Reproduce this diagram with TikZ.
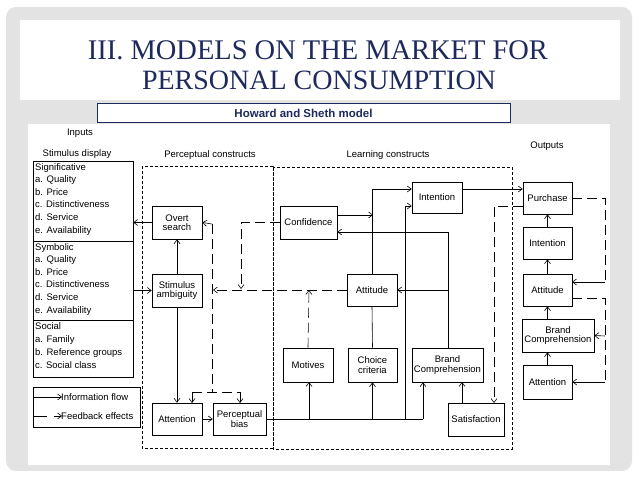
\documentclass[tikz,border=0pt]{standalone}
\usepackage{fontspec}
\setsansfont{Liberation Sans}
\newfontfamily\titlefont{Liberation Serif}
\usetikzlibrary{arrows.meta}
\definecolor{navy}{HTML}{1F2A5C}
\definecolor{bgg}{HTML}{E3E3E3}
\tikzset{
  bx/.style={draw,line width=0.6pt,inner sep=1pt,align=center,font=\sffamily\fontsize{9.5}{9.5}\selectfont},
  lbl/.style={font=\sffamily\fontsize{9.5}{10}\selectfont,inner sep=0pt},
  ln/.style={line width=0.6pt},
  ar/.style={ln,-{Straight Barb[length=4pt,width=6pt]}},
  fb/.style={ln,dash pattern=on 10pt off 5pt},
  fba/.style={fb,-{Straight Barb[length=4pt,width=6pt]}},
  zone/.style={line width=0.6pt,dash pattern=on 3pt off 2pt}
}
\begin{document}
\begin{tikzpicture}[x=1pt,y=-1pt]
\useasboundingbox (0,0) rectangle (638,478);
\fill[bgg,rounded corners=10pt] (6,7) rectangle (632,471);
\fill[white] (20,20) rectangle (620,100);
\fill[white] (28,124) rectangle (610,465);
\node[text=navy,inner sep=0pt] (t1) at (318,50) {\resizebox{460pt}{!}{\titlefont III. MODELS ON THE MARKET FOR}};
\node[text=navy,inner sep=0pt] (t2) at (319,80) {\resizebox{354pt}{!}{\titlefont PERSONAL CONSUMPTION}};
\node[draw=navy,line width=1pt,fill=white,minimum width=413pt,minimum height=19pt,inner sep=0pt,text=navy,font=\sffamily\bfseries\fontsize{11.5}{12}\selectfont] (sub) at (303.5,113.5) {Howard and Sheth model};

% headings
\node[lbl] (hin) at (80,133) {Inputs};
\node[lbl] (hsd) at (77,154) {Stimulus display};
\node[lbl] (hpc) at (210,155) {Perceptual constructs};
\node[lbl] (hlc) at (388,155) {Learning constructs};
\node[lbl] (hout) at (547,146) {Outputs};

% zones
\draw[zone] (142,166) rectangle (273,448);
\draw[zone] (273,167) rectangle (512,449);

% stimulus display
\node[draw,ln,minimum width=100pt,minimum height=80pt,inner sep=0pt] (sig) at (83,201) {};
\node[draw,ln,minimum width=100pt,minimum height=79pt,inner sep=0pt] (sym) at (83,280.5) {};
\node[draw,ln,minimum width=100pt,minimum height=57pt,inner sep=0pt] (soc) at (83,348.5) {};
\node[lbl,anchor=north west,align=left,font=\sffamily\fontsize{9.5}{12.6}\selectfont] (sigt) at (35,163) {Significative\\ a. Quality\\ b. Price\\c. Distinctiveness\\d. Service\\e. Availability};
\node[lbl,anchor=north west,align=left,font=\sffamily\fontsize{9.5}{12.6}\selectfont] (symt) at (35,243) {Symbolic\\ a. Quality\\ b. Price\\c. Distinctiveness\\ d. Service\\ e. Availability};
\node[lbl,anchor=north west,align=left,font=\sffamily\fontsize{9.5}{13.2}\selectfont] (soct) at (35,322) {Social\\ a. Family\\b. Reference groups\\ c. Social class};

% legend
\node[draw,ln,minimum width=107pt,minimum height=40pt,inner sep=0pt] (leg) at (86.5,407) {};
\coordinate (l1a) at (34,397);
\coordinate (l1b) at (62,397);
\draw[ar] (l1a) -- (l1b);
\node[lbl,anchor=west] (l1t) at (61,397) {Information flow};
\coordinate (l2a) at (34,416);
\coordinate (l2b) at (47,416);
\coordinate (l2c) at (54,416);
\coordinate (l2d) at (62,416);
\draw[ln] (l2a) -- (l2b);
\draw[ar] (l2c) -- (l2d);
\node[lbl,anchor=west] (l2t) at (61,416) {Feedback effects};

% boxes
\node[bx,minimum width=50pt,minimum height=33pt] (ovs) at (177,222.5) {Overt\\search};
\node[bx,minimum width=50pt,minimum height=33pt] (sta) at (177,290.5) {Stimulus\\ambiguity};
\node[bx,minimum width=50pt,minimum height=32pt] (att1) at (177,419) {Attention};
\node[bx,minimum width=53pt,minimum height=32pt] (pb) at (239.5,419) {Perceptual\\bias};
\node[bx,minimum width=57pt,minimum height=33pt] (conf) at (308.5,222.5) {Confidence};
\node[bx,minimum width=50pt,minimum height=31pt] (int1) at (437,197.5) {Intention};
\node[bx,minimum width=50pt,minimum height=32pt] (atd) at (372,290) {Attitude};
\node[bx,minimum width=50pt,minimum height=34pt] (mot) at (308,365) {Motives};
\node[bx,minimum width=49pt,minimum height=34pt] (cc) at (372.5,365) {Choice\\criteria};
\node[bx,minimum width=71pt,minimum height=34pt] (bc1) at (447.5,365) {Brand\\Comprehension};
\node[bx,minimum width=56pt,minimum height=33pt] (sat) at (476,419.5) {Satisfaction};
\node[bx,minimum width=49pt,minimum height=32pt] (pur) at (547.5,198) {Purchase};
\node[bx,minimum width=49pt,minimum height=32pt] (int2) at (547.5,243) {Intention};
\node[bx,minimum width=49pt,minimum height=32pt] (atd2) at (547.5,290) {Attitude};
\node[bx,minimum width=72pt,minimum height=33pt] (bc2) at (558,335.5) {Brand\\Comprehension};
\node[bx,minimum width=49pt,minimum height=34pt] (att2) at (547.5,382) {Attention};

% solid flows
\draw[ar] (ovs.west) -- (ovs.west -| sig.east);
\draw[ar] (sta.west -| sym.east) -- (sta.west);
\draw[ar] (sta.north) -- (ovs.south);
\draw[ar] (sta.south) -- (att1.north);
\draw[ar] (att1.east) -- (pb.west);
\coordinate (m1) at (423,419);
\draw[ln] (pb.east) -- (m1);
\draw[ar] (m1) -- (m1 |- bc1.south);
\draw[ar] (309,419) -- (309,382);
\draw[ar] (cc.south |- m1) -- (cc.south);
\coordinate (m2) at (405,419);
\draw[ar] (m2) -- (405,206) -- (int1.west |- 0,206);
\draw[ar] (atd.north) -- (372,189) -- (int1.west |- 0,189);
\draw[ar] (conf.east |- 0,215) -- (373,215);
\coordinate (m3) at (448,348);
\draw[ar] (m3) -- (448,232) -- (conf.east |- 0,232);
\draw[ar] (448,290) -- (atd.east);
\draw[ln] (cc.north) -- (atd.south);
\draw[ar] (462,403) -- (462,382);
\draw[ar] (int1.east |- 0,189) -- (pur.west |- 0,189);
\draw[ar] (int2.north) -- (pur.south);
\draw[ar] (atd2.north) -- (int2.south);
\draw[ar] (atd2.south |- bc2.north) -- (atd2.south);
\draw[ar] (att2.north) -- (att2.north |- bc2.south);

% feedback (dashed)
\draw[fba] (conf.west) -- (241,222.5) -- (241,289);
\draw[fba] (atd.west) -- (213,290);
\draw[fba] (mot.north) -- (309,290);
\draw[fb] (212,224) -- (212,392);
\draw[fb] (192,392) -- (240,392);
\draw[ar] (212,224) -- (ovs.east);
\draw[ar] (192,392) -- (192,403);
\draw[ar] (240,392) -- (240,403);
\draw[fba] (pur.west |- 0,206) -- (494,206) -- (494,403);
\draw[fb] (pur.east) -- (605,198) -- (605,282);
\draw[ar] (605,282) -- (572,282);
\draw[fb] (572,298) -- (605,298) -- (605,382);
\draw[ar] (605,382) -- (att2.east);
\draw[ar] (605,336) -- (bc2.east);
\end{tikzpicture}
\end{document}
